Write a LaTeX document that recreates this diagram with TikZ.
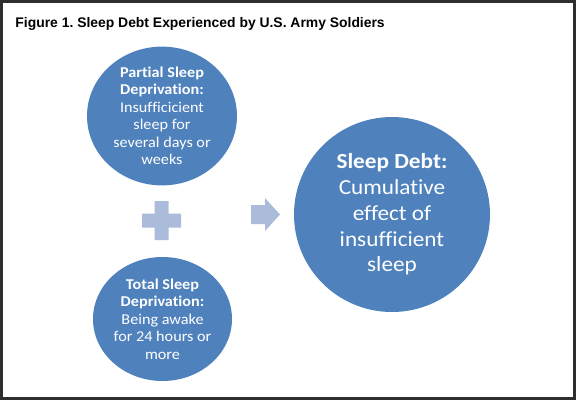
\documentclass[tikz,border=0pt]{standalone}
\usepackage{fontspec}
\setmainfont{Carlito}[Ligatures=NoCommon, FakeStretch=1.08]
\newfontfamily\titlefont{Liberation Sans}
\usetikzlibrary{shapes.geometric}
\definecolor{debtblue}{HTML}{4F81BD}
\definecolor{signblue}{HTML}{AABCDA}
\definecolor{framegray}{HTML}{2E2E2E}
\frenchspacing
\begin{document}
\begin{tikzpicture}
  [
    x = 1pt, y = -1pt,
    cause/.style = {shape=ellipse, fill=debtblue, text=white,
                    inner sep=0pt, align=center,
                    minimum width=139pt, minimum height=124pt,
                    font=\fontsize{15}{17.5}\selectfont},
    debt/.style  = {cause, minimum width=196pt, minimum height=195pt,
                    font=\fontsize{21.5}{25.8}\selectfont},
    sign/.style  = {fill=signblue}
    ]
    \useasboundingbox (0,0) rectangle (576,400);
    % frame round the figure
    \draw [framegray, line width=2.5pt] (1.25,1.25) rectangle (574.5,398.5);
    \node [anchor=base west, inner sep=0pt,
           font=\titlefont\bfseries\fontsize{13.9}{16}\selectfont]
      (title) at (15.3,27.5) {Figure 1. Sleep Debt Experienced by U.S. Army Soldiers};
    \node [cause, minimum width=150pt, minimum height=138pt] (partial) at (162,116)
      {\textbf{Partial Sleep}\\ \textbf{Deprivation:}\\ Insufficicient\\ sleep for\\ several days or\\ weeks};
    \node [cause] (total) at (162.5,319)
      {\textbf{Total Sleep}\\ \textbf{Deprivation:}\\ Being awake\\ for 24 hours or\\ more};
    \node [debt] (sleepdebt) at (392,214.5)
      {\textbf{Sleep Debt:}\\ Cumulative\\ effect of\\ insufficient\\ sleep};
    % plus sign and arrow
    \fill [sign] (154.5,201) -- (168.5,201) -- (168.5,213.5) -- (181,213.5)
      -- (181,227.5) -- (168.5,227.5) -- (168.5,240) -- (154.5,240)
      -- (154.5,227.5) -- (142,227.5) -- (142,213.5) -- (154.5,213.5) -- cycle;
    \fill [sign] (251,205) -- (265,205) -- (265,198) -- (280,214.5)
      -- (265,231) -- (265,224) -- (251,224) -- cycle;
\end{tikzpicture}
\end{document}
